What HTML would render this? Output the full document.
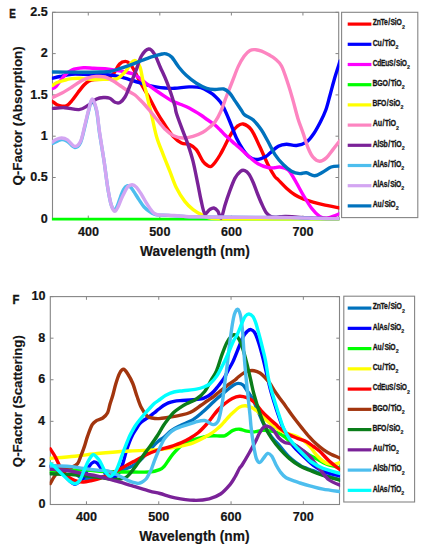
<!DOCTYPE html><html><head><meta charset="utf-8"><style>html,body{margin:0;padding:0;background:#fff;overflow:hidden;}svg{display:block;}text{font-family:"Liberation Sans",sans-serif;font-weight:bold;}</style></head><body>
<svg width="423" height="550" viewBox="0 0 423 550">
<rect width="423" height="550" fill="#fff"/>
<defs><clipPath id="cE"><rect x="51.90" y="10.70" width="287.40" height="209.70"/></clipPath></defs>
<rect x="52.50" y="12.30" width="286.20" height="206.50" fill="none" stroke="#858585" stroke-width="1.1"/>
<path d="M88.28,218.80v-3.20M88.28,12.30v3.20" stroke="#858585" stroke-width="1"/>
<text transform="translate(77.93,235.80) scale(1.0000,1)" font-size="12.60" fill="#141414" stroke="#141414" stroke-width="0.20">400</text>
<path d="M159.82,218.80v-3.20M159.82,12.30v3.20" stroke="#858585" stroke-width="1"/>
<text transform="translate(149.37,235.80) scale(1.0000,1)" font-size="12.60" fill="#141414" stroke="#141414" stroke-width="0.20">500</text>
<path d="M231.38,218.80v-3.20M231.38,12.30v3.20" stroke="#858585" stroke-width="1"/>
<text transform="translate(220.89,235.80) scale(1.0000,1)" font-size="12.60" fill="#141414" stroke="#141414" stroke-width="0.20">600</text>
<path d="M302.93,218.80v-3.20M302.93,12.30v3.20" stroke="#858585" stroke-width="1"/>
<text transform="translate(292.40,235.80) scale(1.0000,1)" font-size="12.60" fill="#141414" stroke="#141414" stroke-width="0.20">700</text>
<path d="M52.50,218.80h3.20M338.70,218.80h-3.20" stroke="#858585" stroke-width="1"/>
<text transform="translate(40.81,222.50) scale(1.0000,1)" font-size="12.60" fill="#141414" stroke="#141414" stroke-width="0.20">0</text>
<path d="M52.50,177.50h3.20M338.70,177.50h-3.20" stroke="#858585" stroke-width="1"/>
<text transform="translate(30.13,181.20) scale(1.0000,1)" font-size="12.60" fill="#141414" stroke="#141414" stroke-width="0.20">0.5</text>
<path d="M52.50,136.20h3.20M338.70,136.20h-3.20" stroke="#858585" stroke-width="1"/>
<text transform="translate(40.65,139.90) scale(1.0000,1)" font-size="12.60" fill="#141414" stroke="#141414" stroke-width="0.20">1</text>
<path d="M52.50,94.90h3.20M338.70,94.90h-3.20" stroke="#858585" stroke-width="1"/>
<text transform="translate(30.13,98.60) scale(1.0000,1)" font-size="12.60" fill="#141414" stroke="#141414" stroke-width="0.20">1.5</text>
<path d="M52.50,53.60h3.20M338.70,53.60h-3.20" stroke="#858585" stroke-width="1"/>
<text transform="translate(40.81,57.30) scale(1.0000,1)" font-size="12.60" fill="#141414" stroke="#141414" stroke-width="0.20">2</text>
<path d="M52.50,12.30h3.20M338.70,12.30h-3.20" stroke="#858585" stroke-width="1"/>
<text transform="translate(30.13,16.00) scale(1.0000,1)" font-size="12.60" fill="#141414" stroke="#141414" stroke-width="0.20">2.5</text>
<g clip-path="url(#cE)" fill="none" stroke-width="3.4" stroke-linejoin="round" stroke-linecap="round">
<path d="M52.50,101.50C53.25,102.05 55.42,104.02 57.00,104.80C58.58,105.58 60.33,106.08 62.00,106.20C63.67,106.32 65.33,106.45 67.00,105.50C68.67,104.55 70.17,102.67 72.00,100.50C73.83,98.33 76.00,95.08 78.00,92.50C80.00,89.92 82.17,86.92 84.00,85.00C85.83,83.08 87.17,81.92 89.00,81.00C90.83,80.08 93.00,79.80 95.00,79.50C97.00,79.20 99.17,79.28 101.00,79.20C102.83,79.12 104.50,79.37 106.00,79.00C107.50,78.63 108.67,78.00 110.00,77.00C111.33,76.00 112.40,75.17 114.00,73.00C115.60,70.83 117.70,65.93 119.60,64.00C121.50,62.07 123.70,61.47 125.40,61.40C127.10,61.33 128.35,62.15 129.80,63.60C131.25,65.05 132.40,67.07 134.10,70.10C135.80,73.13 138.05,78.15 140.00,81.80C141.95,85.45 144.22,89.30 145.80,92.00C147.38,94.70 147.72,94.75 149.50,98.00C151.28,101.25 153.95,107.03 156.50,111.50C159.05,115.97 162.03,120.65 164.80,124.80C167.57,128.95 170.33,133.37 173.10,136.40C175.87,139.43 178.65,141.63 181.40,143.00C184.15,144.37 187.12,143.50 189.60,144.60C192.08,145.70 194.08,146.83 196.30,149.60C198.52,152.37 201.03,158.55 202.90,161.20C204.77,163.85 206.15,164.62 207.50,165.50C208.85,166.38 209.75,167.00 211.00,166.50C212.25,166.00 213.50,164.42 215.00,162.50C216.50,160.58 218.50,157.50 220.00,155.00C221.50,152.50 222.75,149.92 224.00,147.50C225.25,145.08 226.17,143.00 227.50,140.50C228.83,138.00 230.42,134.83 232.00,132.50C233.58,130.17 235.15,127.92 237.00,126.50C238.85,125.08 240.72,123.45 243.10,124.00C245.48,124.55 248.55,126.08 251.30,129.80C254.05,133.52 256.83,140.52 259.60,146.30C262.37,152.08 265.42,159.53 267.90,164.50C270.38,169.47 272.77,173.53 274.50,176.10C276.23,178.67 276.30,177.88 278.30,179.90C280.30,181.92 283.75,185.72 286.50,188.20C289.25,190.68 292.03,193.02 294.80,194.80C297.57,196.58 300.07,197.67 303.10,198.90C306.13,200.13 309.68,201.23 313.00,202.20C316.32,203.17 318.50,203.73 323.00,204.70C327.50,205.67 337.17,207.45 340.00,208.00" stroke="#ff0000"/>
<path d="M52.50,78.20C53.75,77.92 56.78,77.17 60.00,76.50C63.22,75.83 66.80,74.53 71.80,74.20C76.80,73.87 84.47,74.45 90.00,74.50C95.53,74.55 100.07,74.13 105.00,74.50C109.93,74.87 114.75,75.62 119.60,76.70C124.45,77.78 129.73,79.67 134.10,81.00C138.47,82.33 142.15,83.72 145.80,84.70C149.45,85.68 152.80,86.35 156.00,86.90C159.20,87.45 161.90,87.77 165.00,88.00C168.10,88.23 170.58,88.48 174.60,88.30C178.62,88.12 184.73,87.02 189.10,86.90C193.47,86.78 197.40,86.75 200.80,87.60C204.20,88.45 207.08,90.53 209.50,92.00C211.92,93.47 213.55,94.82 215.30,96.40C217.05,97.98 218.68,99.80 220.00,101.50C221.32,103.20 221.57,103.27 223.20,106.60C224.83,109.93 227.60,116.27 229.80,121.50C232.00,126.73 234.18,133.32 236.40,138.00C238.62,142.68 240.88,146.42 243.10,149.60C245.32,152.78 247.22,155.45 249.70,157.10C252.18,158.75 255.25,159.65 258.00,159.50C260.75,159.35 264.20,157.28 266.20,156.20C268.20,155.12 267.98,154.65 270.00,153.00C272.02,151.35 275.55,147.75 278.30,146.30C281.05,144.85 283.47,144.43 286.50,144.30C289.53,144.17 293.18,145.85 296.50,145.50C299.82,145.15 303.57,144.12 306.40,142.20C309.23,140.28 311.15,137.42 313.50,134.00C315.85,130.58 318.45,125.70 320.50,121.70C322.55,117.70 324.25,114.28 325.80,110.00C327.35,105.72 328.40,101.05 329.80,96.00C331.20,90.95 332.75,84.72 334.20,79.70C335.65,74.68 337.53,69.02 338.50,65.90C339.47,62.78 339.75,61.82 340.00,61.00" stroke="#0000ff"/>
<path d="M52.50,88.50C53.08,88.17 53.98,88.67 56.00,86.50C58.02,84.33 61.97,78.25 64.60,75.50C67.23,72.75 68.65,71.28 71.80,70.00C74.95,68.72 79.85,68.08 83.50,67.80C87.15,67.52 90.12,68.15 93.70,68.30C97.28,68.45 100.68,68.27 105.00,68.70C109.32,69.13 114.75,69.93 119.60,70.90C124.45,71.87 129.73,72.45 134.10,74.50C138.47,76.55 142.15,80.53 145.80,83.20C149.45,85.87 152.85,88.30 156.00,90.50C159.15,92.70 162.10,94.70 164.70,96.40C167.30,98.10 168.75,99.30 171.60,100.70C174.45,102.10 178.80,103.55 181.80,104.80C184.80,106.05 186.37,106.47 189.60,108.20C192.83,109.93 198.63,113.57 201.20,115.20C203.77,116.83 203.53,116.95 205.00,118.00C206.47,119.05 208.33,120.33 210.00,121.50C211.67,122.67 213.33,123.62 215.00,125.00C216.67,126.38 218.33,128.13 220.00,129.80C221.67,131.47 223.33,133.38 225.00,135.00C226.67,136.62 228.33,138.00 230.00,139.50C231.67,141.00 233.33,142.53 235.00,144.00C236.67,145.47 238.33,146.80 240.00,148.30C241.67,149.80 243.33,151.47 245.00,153.00C246.67,154.53 247.83,155.72 250.00,157.50C252.17,159.28 255.02,162.03 258.00,163.70C260.98,165.37 265.15,166.82 267.90,167.50C270.65,168.18 272.50,167.88 274.50,167.80C276.50,167.72 277.62,166.63 279.90,167.00C282.18,167.37 285.72,167.85 288.20,170.00C290.68,172.15 292.32,175.77 294.80,179.90C297.28,184.03 300.33,190.12 303.10,194.80C305.87,199.48 308.65,204.42 311.40,208.00C314.15,211.58 317.12,214.58 319.60,216.30C322.08,218.02 324.08,218.30 326.30,218.30C328.52,218.30 330.62,217.10 332.90,216.30C335.18,215.50 338.82,213.97 340.00,213.50" stroke="#ff00ff"/>
<path d="M51.00,219.40C62.50,219.40 95.17,219.40 120.00,219.40C144.83,219.40 163.33,219.40 200.00,219.40C236.67,219.40 316.67,219.40 340.00,219.40" stroke="#00ff00"/>
<path d="M52.50,85.50C53.08,85.08 54.42,83.75 56.00,83.00C57.58,82.25 60.17,81.58 62.00,81.00C63.83,80.42 65.33,79.90 67.00,79.50C68.67,79.10 69.83,78.80 72.00,78.60C74.17,78.40 77.67,78.27 80.00,78.30C82.33,78.33 84.00,78.60 86.00,78.80C88.00,79.00 89.67,79.38 92.00,79.50C94.33,79.62 97.67,79.55 100.00,79.50C102.33,79.45 103.23,79.30 106.00,79.20C108.77,79.10 113.37,80.17 116.60,78.90C119.83,77.63 122.97,74.27 125.40,71.60C127.83,68.93 129.50,64.72 131.20,62.90C132.90,61.08 134.13,59.98 135.60,60.70C137.07,61.42 138.78,63.93 140.00,67.20C141.22,70.47 141.93,76.42 142.90,80.30C143.87,84.18 144.83,86.72 145.80,90.50C146.77,94.28 147.73,98.93 148.70,103.00C149.67,107.07 150.30,109.33 151.60,114.90C152.90,120.47 154.57,129.78 156.50,136.40C158.43,143.02 160.98,148.82 163.20,154.60C165.42,160.38 167.58,165.52 169.80,171.10C172.02,176.68 174.00,183.05 176.50,188.10C179.00,193.15 182.03,197.82 184.80,201.40C187.57,204.98 190.07,207.27 193.10,209.60C196.13,211.93 199.35,213.88 203.00,215.40C206.65,216.92 205.50,218.03 215.00,218.70C224.50,219.37 239.17,219.28 260.00,219.40C280.83,219.52 326.67,219.40 340.00,219.40" stroke="#ffff00"/>
<path d="M52.50,97.50C54.08,96.75 58.75,94.75 62.00,93.00C65.25,91.25 68.67,89.08 72.00,87.00C75.33,84.92 78.67,82.20 82.00,80.50C85.33,78.80 89.17,77.47 92.00,76.80C94.83,76.13 96.83,76.47 99.00,76.50C101.17,76.53 103.17,76.53 105.00,77.00C106.83,77.47 108.33,78.47 110.00,79.30C111.67,80.13 113.33,80.97 115.00,82.00C116.67,83.03 118.33,84.33 120.00,85.50C121.67,86.67 123.33,87.92 125.00,89.00C126.67,90.08 128.33,91.00 130.00,92.00C131.67,93.00 133.33,93.70 135.00,95.00C136.67,96.30 138.33,98.13 140.00,99.80C141.67,101.47 143.33,103.13 145.00,105.00C146.67,106.87 148.33,108.95 150.00,111.00C151.67,113.05 153.33,115.25 155.00,117.30C156.67,119.35 158.37,121.37 160.00,123.30C161.63,125.23 162.62,126.87 164.80,128.90C166.98,130.93 170.07,133.98 173.10,135.50C176.13,137.02 179.68,137.87 183.00,138.00C186.32,138.13 189.68,137.27 193.00,136.30C196.32,135.33 200.15,133.72 202.90,132.20C205.65,130.68 207.48,128.90 209.50,127.20C211.52,125.50 213.08,124.70 215.00,122.00C216.92,119.30 219.07,115.33 221.00,111.00C222.93,106.67 224.68,101.00 226.60,96.00C228.52,91.00 230.55,85.93 232.50,81.00C234.45,76.07 236.37,70.53 238.30,66.40C240.23,62.27 242.15,58.87 244.10,56.20C246.05,53.53 248.05,51.48 250.00,50.40C251.95,49.32 253.87,49.58 255.80,49.70C257.73,49.82 259.42,50.25 261.60,51.10C263.78,51.95 266.72,53.58 268.90,54.80C271.08,56.02 272.60,56.53 274.70,58.40C276.80,60.27 279.27,61.73 281.50,66.00C283.73,70.27 286.18,78.27 288.10,84.00C290.02,89.73 291.37,94.67 293.00,100.40C294.63,106.13 296.22,112.95 297.90,118.40C299.58,123.85 301.40,128.17 303.10,133.10C304.80,138.03 306.45,144.00 308.10,148.00C309.75,152.00 311.08,154.90 313.00,157.10C314.92,159.30 317.38,161.07 319.60,161.20C321.82,161.33 324.08,159.83 326.30,157.90C328.52,155.97 330.62,152.50 332.90,149.60C335.18,146.70 338.82,142.02 340.00,140.50" stroke="#fd84c0"/>
<path d="M52.50,108.40C54.52,108.28 60.18,107.50 64.60,107.70C69.02,107.90 75.12,109.97 79.00,109.60C82.88,109.23 84.97,107.27 87.90,105.50C90.83,103.73 93.93,100.33 96.60,99.00C99.27,97.67 101.72,97.63 103.90,97.50C106.08,97.37 107.85,97.40 109.70,98.20C111.55,99.00 113.28,101.58 115.00,102.30C116.72,103.02 118.33,103.38 120.00,102.50C121.67,101.62 123.50,99.42 125.00,97.00C126.50,94.58 127.67,91.17 129.00,88.00C130.33,84.83 131.80,81.00 133.00,78.00C134.20,75.00 134.80,73.67 136.20,70.00C137.60,66.33 139.32,59.50 141.40,56.00C143.48,52.50 146.52,49.32 148.70,49.00C150.88,48.68 152.57,51.07 154.50,54.10C156.43,57.13 158.17,62.35 160.30,67.20C162.43,72.05 164.92,76.90 167.30,83.20C169.68,89.50 173.08,100.00 174.60,105.00C176.12,110.00 175.00,108.80 176.40,113.20C177.80,117.60 181.07,126.17 183.00,131.40C184.93,136.63 186.33,139.63 188.00,144.60C189.67,149.57 191.35,154.57 193.00,161.20C194.65,167.83 196.57,177.93 197.90,184.40C199.23,190.87 199.87,195.15 201.00,200.00C202.13,204.85 203.27,211.90 204.70,213.50C206.13,215.10 208.08,210.52 209.60,209.60C211.12,208.68 212.42,207.72 213.80,208.00C215.18,208.28 216.67,209.63 217.90,211.30C219.13,212.97 220.03,218.98 221.20,218.00C222.37,217.02 223.57,209.63 224.90,205.40C226.23,201.17 227.53,197.10 229.20,192.60C230.87,188.10 233.02,181.95 234.90,178.40C236.78,174.85 238.85,172.60 240.50,171.30C242.15,170.00 243.38,170.12 244.80,170.60C246.22,171.08 247.58,172.18 249.00,174.20C250.42,176.22 251.87,179.40 253.30,182.70C254.73,186.00 256.18,190.45 257.60,194.00C259.02,197.55 260.38,200.92 261.80,204.00C263.22,207.08 264.68,210.47 266.10,212.50C267.52,214.53 268.82,215.42 270.30,216.20C271.78,216.98 273.38,217.10 275.00,217.20C276.62,217.30 278.33,216.93 280.00,216.80C281.67,216.67 283.00,216.43 285.00,216.40C287.00,216.37 289.50,216.42 292.00,216.60C294.50,216.78 295.33,217.22 300.00,217.50C304.67,217.78 313.33,218.12 320.00,218.30C326.67,218.48 336.67,218.55 340.00,218.60" stroke="#7a2298"/>
<path d="M52.50,143.50C54.02,142.83 59.10,139.83 61.60,139.50C64.10,139.17 65.30,140.17 67.50,141.50C69.70,142.83 72.62,147.33 74.80,147.50C76.98,147.67 78.90,146.08 80.60,142.50C82.30,138.92 83.67,131.25 85.00,126.00C86.33,120.75 87.43,115.33 88.60,111.00C89.77,106.67 90.67,100.00 92.00,100.00C93.33,100.00 95.35,105.50 96.60,111.00C97.85,116.50 98.23,124.50 99.50,133.00C100.77,141.50 102.85,153.00 104.20,162.00C105.55,171.00 106.50,180.08 107.60,187.00C108.70,193.92 109.87,199.83 110.80,203.50C111.73,207.17 112.47,207.95 113.20,209.00C113.93,210.05 114.48,210.38 115.20,209.80C115.92,209.22 116.65,207.55 117.50,205.50C118.35,203.45 119.30,200.17 120.30,197.50C121.30,194.83 122.37,191.43 123.50,189.50C124.63,187.57 125.92,186.30 127.10,185.90C128.28,185.50 129.42,186.07 130.60,187.10C131.78,188.13 132.78,189.97 134.20,192.10C135.62,194.23 137.45,197.42 139.10,199.90C140.75,202.38 142.28,205.00 144.10,207.00C145.92,209.00 148.32,210.72 150.00,211.90C151.68,213.08 152.72,213.57 154.20,214.10C155.68,214.63 156.60,214.88 158.90,215.10C161.20,215.32 164.48,215.23 168.00,215.40C171.52,215.57 175.12,215.85 180.00,216.10C184.88,216.35 183.97,216.68 197.30,216.90C210.63,217.12 244.55,217.28 260.00,217.40C275.45,217.52 280.00,217.42 290.00,217.60C300.00,217.78 311.67,218.30 320.00,218.50C328.33,218.70 336.67,218.75 340.00,218.80" stroke="#4dbeee"/>
<path d="M52.50,142.00C53.08,141.58 54.48,140.17 56.00,139.50C57.52,138.83 59.68,137.93 61.60,138.00C63.52,138.07 65.30,138.50 67.50,139.90C69.70,141.30 72.62,146.17 74.80,146.40C76.98,146.63 78.90,144.93 80.60,141.30C82.30,137.67 83.67,129.82 85.00,124.60C86.33,119.38 87.40,114.27 88.60,110.00C89.80,105.73 90.87,99.00 92.20,99.00C93.53,99.00 95.38,104.53 96.60,110.00C97.82,115.47 98.28,123.47 99.50,131.80C100.72,140.13 102.57,150.97 103.90,160.00C105.23,169.03 106.37,178.83 107.50,186.00C108.63,193.17 109.75,199.03 110.70,203.00C111.65,206.97 112.40,208.47 113.20,209.80C114.00,211.13 114.70,211.47 115.50,211.00C116.30,210.53 117.03,209.00 118.00,207.00C118.97,205.00 120.22,201.42 121.30,199.00C122.38,196.58 123.42,194.53 124.50,192.50C125.58,190.47 126.53,188.08 127.80,186.80C129.07,185.52 130.68,184.75 132.10,184.80C133.52,184.85 134.77,185.53 136.30,187.10C137.83,188.67 139.65,191.60 141.30,194.20C142.95,196.80 144.75,200.33 146.20,202.70C147.65,205.07 148.67,206.62 150.00,208.40C151.33,210.18 152.72,212.30 154.20,213.40C155.68,214.50 156.53,214.70 158.90,215.00C161.27,215.30 164.88,215.03 168.40,215.20C171.92,215.37 175.18,215.72 180.00,216.00C184.82,216.28 183.97,216.67 197.30,216.90C210.63,217.13 244.55,217.28 260.00,217.40C275.45,217.52 280.00,217.42 290.00,217.60C300.00,217.78 311.67,218.30 320.00,218.50C328.33,218.70 336.67,218.75 340.00,218.80" stroke="#d3a5f2"/>
<path d="M52.50,72.00C57.08,72.03 72.08,72.20 80.00,72.20C87.92,72.20 95.05,72.12 100.00,72.00C104.95,71.88 106.43,72.05 109.70,71.50C112.97,70.95 115.53,70.02 119.60,68.70C123.67,67.38 129.25,65.42 134.10,63.60C138.95,61.78 145.05,59.13 148.70,57.80C152.35,56.47 153.78,56.23 156.00,55.60C158.22,54.97 160.37,54.30 162.00,54.00C163.63,53.70 164.20,53.30 165.80,53.80C167.40,54.30 169.42,54.77 171.60,57.00C173.78,59.23 176.47,64.17 178.90,67.20C181.33,70.23 183.28,72.53 186.20,75.20C189.12,77.87 193.00,81.02 196.40,83.20C199.80,85.38 203.50,87.25 206.60,88.30C209.70,89.35 212.15,89.38 215.00,89.50C217.85,89.62 221.27,88.42 223.70,89.00C226.13,89.58 227.65,90.93 229.60,93.00C231.55,95.07 233.47,98.57 235.40,101.40C237.33,104.23 239.65,107.75 241.20,110.00C242.75,112.25 242.73,113.27 244.70,114.90C246.67,116.53 250.23,117.32 253.00,119.80C255.77,122.28 258.82,126.22 261.30,129.80C263.78,133.38 265.62,137.17 267.90,141.30C270.18,145.43 272.45,150.73 275.00,154.60C277.55,158.47 280.45,161.73 283.20,164.50C285.95,167.27 288.73,169.68 291.50,171.20C294.27,172.72 297.32,173.33 299.80,173.60C302.28,173.87 303.92,172.43 306.40,172.80C308.88,173.17 311.93,175.93 314.70,175.80C317.47,175.67 320.25,173.47 323.00,172.00C325.75,170.53 328.37,168.00 331.20,167.00C334.03,166.00 338.53,166.17 340.00,166.00" stroke="#0072bd"/>
</g>
<rect x="341.60" y="12.30" width="76.20" height="205.30" fill="#fff" stroke="#858585" stroke-width="1.1"/>
<path d="M347.7,24.10H371.4" stroke="#ff0000" stroke-width="3.2"/>
<text transform="translate(372.79,25.40) scale(0.8116,1)" font-size="8.43" fill="#141414" letter-spacing="-0.35" stroke="#141414" stroke-width="0.28" dx="0 0 0 0 0.90 0.90 0 0">ZnTe/SiO</text>
<text transform="translate(401.91,28.50) scale(0.9500,1)" font-size="5.60" fill="#141414" stroke="#141414" stroke-width="0.10">2</text>
<path d="M347.7,44.30H371.4" stroke="#0000ff" stroke-width="3.2"/>
<text transform="translate(372.72,45.60) scale(0.8272,1)" font-size="8.43" fill="#141414" letter-spacing="-0.35" stroke="#141414" stroke-width="0.28" dx="0 0 0.90 0.90 0 0">Cu/TiO</text>
<text transform="translate(395.61,48.70) scale(0.9500,1)" font-size="5.60" fill="#141414" stroke="#141414" stroke-width="0.10">2</text>
<path d="M347.7,64.50H371.4" stroke="#ff00ff" stroke-width="3.2"/>
<text transform="translate(372.74,65.80) scale(0.7851,1)" font-size="8.43" fill="#141414" letter-spacing="-0.35" stroke="#141414" stroke-width="0.28" dx="0 0 0 0 0 0.90 0.90 0 0">CdEuS/SiO</text>
<text transform="translate(407.01,68.90) scale(0.9500,1)" font-size="5.60" fill="#141414" stroke="#141414" stroke-width="0.10">2</text>
<path d="M347.7,84.70H371.4" stroke="#00ff00" stroke-width="3.2"/>
<text transform="translate(372.53,86.00) scale(0.8299,1)" font-size="8.43" fill="#141414" letter-spacing="-0.35" stroke="#141414" stroke-width="0.28" dx="0 0 0 0.90 0.90 0 0">BGO/TiO</text>
<text transform="translate(401.81,89.10) scale(0.9500,1)" font-size="5.60" fill="#141414" stroke="#141414" stroke-width="0.10">2</text>
<path d="M347.7,104.90H371.4" stroke="#ffff00" stroke-width="3.2"/>
<text transform="translate(372.54,106.20) scale(0.8079,1)" font-size="8.43" fill="#141414" letter-spacing="-0.35" stroke="#141414" stroke-width="0.28" dx="0 0 0 0.90 0.90 0 0">BFO/SiO</text>
<text transform="translate(400.41,109.30) scale(0.9500,1)" font-size="5.60" fill="#141414" stroke="#141414" stroke-width="0.10">2</text>
<path d="M347.7,125.10H371.4" stroke="#fd84c0" stroke-width="3.2"/>
<text transform="translate(372.82,126.40) scale(0.8419,1)" font-size="8.43" fill="#141414" letter-spacing="-0.35" stroke="#141414" stroke-width="0.28" dx="0 0 0.90 0.90 0 0">Au/TiO</text>
<text transform="translate(396.11,129.50) scale(0.9500,1)" font-size="5.60" fill="#141414" stroke="#141414" stroke-width="0.10">2</text>
<path d="M347.7,145.30H371.4" stroke="#7a2298" stroke-width="3.2"/>
<text transform="translate(372.83,146.60) scale(0.8297,1)" font-size="8.43" fill="#141414" letter-spacing="-0.35" stroke="#141414" stroke-width="0.28" dx="0 0 0 0 0.90 0.90 0 0">AlSb/TiO</text>
<text transform="translate(401.81,149.70) scale(0.9500,1)" font-size="5.60" fill="#141414" stroke="#141414" stroke-width="0.10">2</text>
<path d="M347.7,165.50H371.4" stroke="#4dbeee" stroke-width="3.2"/>
<text transform="translate(372.83,166.80) scale(0.8151,1)" font-size="8.43" fill="#141414" letter-spacing="-0.35" stroke="#141414" stroke-width="0.28" dx="0 0 0 0 0.90 0.90 0 0">AlAs/TiO</text>
<text transform="translate(401.31,169.90) scale(0.9500,1)" font-size="5.60" fill="#141414" stroke="#141414" stroke-width="0.10">2</text>
<path d="M347.7,185.70H371.4" stroke="#d3a5f2" stroke-width="3.2"/>
<text transform="translate(372.83,187.00) scale(0.8008,1)" font-size="8.43" fill="#141414" letter-spacing="-0.35" stroke="#141414" stroke-width="0.28" dx="0 0 0 0 0.90 0.90 0 0">AlAs/SiO</text>
<text transform="translate(401.31,190.10) scale(0.9500,1)" font-size="5.60" fill="#141414" stroke="#141414" stroke-width="0.10">2</text>
<path d="M347.7,205.90H371.4" stroke="#0072bd" stroke-width="3.2"/>
<text transform="translate(372.83,207.20) scale(0.8087,1)" font-size="8.43" fill="#141414" letter-spacing="-0.35" stroke="#141414" stroke-width="0.28" dx="0 0 0.90 0.90 0 0">Au/SiO</text>
<text transform="translate(395.71,210.30) scale(0.9500,1)" font-size="5.60" fill="#141414" stroke="#141414" stroke-width="0.10">2</text>
<defs><clipPath id="cF"><rect x="49.70" y="295.00" width="290.40" height="211.10"/></clipPath></defs>
<rect x="50.30" y="296.60" width="289.20" height="207.90" fill="none" stroke="#858585" stroke-width="1.1"/>
<path d="M86.45,504.50v-3.20M86.45,296.60v3.20" stroke="#858585" stroke-width="1"/>
<text transform="translate(76.10,520.80) scale(1.0000,1)" font-size="12.60" fill="#141414" stroke="#141414" stroke-width="0.20">400</text>
<path d="M158.75,504.50v-3.20M158.75,296.60v3.20" stroke="#858585" stroke-width="1"/>
<text transform="translate(148.29,520.80) scale(1.0000,1)" font-size="12.60" fill="#141414" stroke="#141414" stroke-width="0.20">500</text>
<path d="M231.05,504.50v-3.20M231.05,296.60v3.20" stroke="#858585" stroke-width="1"/>
<text transform="translate(220.56,520.80) scale(1.0000,1)" font-size="12.60" fill="#141414" stroke="#141414" stroke-width="0.20">600</text>
<path d="M303.35,504.50v-3.20M303.35,296.60v3.20" stroke="#858585" stroke-width="1"/>
<text transform="translate(292.83,520.80) scale(1.0000,1)" font-size="12.60" fill="#141414" stroke="#141414" stroke-width="0.20">700</text>
<path d="M50.30,504.50h3.20M339.50,504.50h-3.20" stroke="#858585" stroke-width="1"/>
<text transform="translate(38.41,508.20) scale(1.0000,1)" font-size="12.60" fill="#141414" stroke="#141414" stroke-width="0.20">0</text>
<path d="M50.30,462.92h3.20M339.50,462.92h-3.20" stroke="#858585" stroke-width="1"/>
<text transform="translate(38.41,466.62) scale(1.0000,1)" font-size="12.60" fill="#141414" stroke="#141414" stroke-width="0.20">2</text>
<path d="M50.30,421.34h3.20M339.50,421.34h-3.20" stroke="#858585" stroke-width="1"/>
<text transform="translate(37.97,425.04) scale(1.0000,1)" font-size="12.60" fill="#141414" stroke="#141414" stroke-width="0.20">4</text>
<path d="M50.30,379.76h3.20M339.50,379.76h-3.20" stroke="#858585" stroke-width="1"/>
<text transform="translate(38.35,383.46) scale(1.0000,1)" font-size="12.60" fill="#141414" stroke="#141414" stroke-width="0.20">6</text>
<path d="M50.30,338.18h3.20M339.50,338.18h-3.20" stroke="#858585" stroke-width="1"/>
<text transform="translate(38.28,341.88) scale(1.0000,1)" font-size="12.60" fill="#141414" stroke="#141414" stroke-width="0.20">8</text>
<path d="M50.30,296.60h3.20M339.50,296.60h-3.20" stroke="#858585" stroke-width="1"/>
<text transform="translate(31.42,300.30) scale(1.0000,1)" font-size="12.60" fill="#141414" stroke="#141414" stroke-width="0.20">10</text>
<g clip-path="url(#cF)" fill="none" stroke-width="3.4" stroke-linejoin="round" stroke-linecap="round">
<path d="M50.30,466.00C51.92,466.08 56.72,466.08 60.00,466.50C63.28,466.92 67.33,467.25 70.00,468.50C72.67,469.75 74.15,472.45 76.00,474.00C77.85,475.55 78.87,477.07 81.10,477.80C83.33,478.53 86.75,478.37 89.40,478.40C92.05,478.43 94.23,478.48 97.00,478.00C99.77,477.52 102.75,476.63 106.00,475.50C109.25,474.37 113.33,472.28 116.50,471.20C119.67,470.12 122.35,469.87 125.00,469.00C127.65,468.13 129.90,467.42 132.40,466.00C134.90,464.58 137.73,462.50 140.00,460.50C142.27,458.50 143.98,456.22 146.00,454.00C148.02,451.78 150.10,449.28 152.10,447.20C154.10,445.12 155.98,443.20 158.00,441.50C160.02,439.80 161.98,438.82 164.20,437.00C166.42,435.18 168.67,432.48 171.30,430.60C173.93,428.72 176.37,427.53 180.00,425.70C183.63,423.87 189.27,421.92 193.10,419.60C196.93,417.28 200.32,414.07 203.00,411.80C205.68,409.53 207.03,408.05 209.20,406.00C211.37,403.95 213.63,401.62 216.00,399.50C218.37,397.38 221.23,395.13 223.40,393.30C225.57,391.47 227.28,389.88 229.00,388.50C230.72,387.12 232.15,385.85 233.70,385.00C235.25,384.15 236.75,383.40 238.30,383.40C239.85,383.40 241.58,383.83 243.00,385.00C244.42,386.17 245.18,388.05 246.80,390.40C248.42,392.75 250.75,395.47 252.70,399.10C254.65,402.73 256.57,407.83 258.50,412.20C260.43,416.57 262.12,421.17 264.30,425.30C266.48,429.43 268.93,433.47 271.60,437.00C274.27,440.53 278.07,443.93 280.30,446.50C282.53,449.07 283.52,450.65 285.00,452.40C286.48,454.15 287.53,455.43 289.20,457.00C290.87,458.57 293.20,460.42 295.00,461.80C296.80,463.18 298.50,464.37 300.00,465.30C301.50,466.23 301.83,466.50 304.00,467.40C306.17,468.30 309.83,469.47 313.00,470.70C316.17,471.93 318.33,473.25 323.00,474.80C327.67,476.35 338.00,479.13 341.00,480.00" stroke="#0072bd"/>
<path d="M50.30,466.70C51.25,466.92 54.05,467.03 56.00,468.00C57.95,468.97 59.78,470.42 62.00,472.50C64.22,474.58 67.10,478.53 69.30,480.50C71.50,482.47 73.42,484.22 75.20,484.30C76.98,484.38 78.62,482.08 80.00,481.00C81.38,479.92 81.93,480.30 83.50,477.80C85.07,475.30 87.65,468.65 89.40,466.00C91.15,463.35 92.63,462.30 94.00,461.90C95.37,461.50 96.28,462.33 97.60,463.60C98.92,464.87 100.22,467.60 101.90,469.50C103.58,471.40 105.82,473.62 107.70,475.00C109.58,476.38 111.40,478.05 113.20,477.80C115.00,477.55 116.95,475.70 118.50,473.50C120.05,471.30 121.22,468.27 122.50,464.60C123.78,460.93 125.03,455.27 126.20,451.50C127.37,447.73 128.40,444.83 129.50,442.00C130.60,439.17 131.63,436.75 132.80,434.50C133.97,432.25 135.30,430.37 136.50,428.50C137.70,426.63 138.58,424.80 140.00,423.30C141.42,421.80 143.42,420.63 145.00,419.50C146.58,418.37 148.00,417.58 149.50,416.50C151.00,415.42 152.43,414.25 154.00,413.00C155.57,411.75 157.32,410.25 158.90,409.00C160.48,407.75 161.92,406.53 163.50,405.50C165.08,404.47 166.65,403.50 168.40,402.80C170.15,402.10 172.08,401.67 174.00,401.30C175.92,400.93 176.72,400.85 179.90,400.60C183.08,400.35 189.52,400.10 193.10,399.80C196.68,399.50 199.50,399.13 201.40,398.80C203.30,398.47 203.23,398.35 204.50,397.80C205.77,397.25 207.43,396.60 209.00,395.50C210.57,394.40 212.48,392.62 213.90,391.20C215.32,389.78 216.23,388.58 217.50,387.00C218.77,385.42 220.25,383.45 221.50,381.70C222.75,379.95 223.90,378.38 225.00,376.50C226.10,374.62 226.80,372.83 228.10,370.40C229.40,367.97 231.10,365.55 232.80,361.90C234.50,358.25 236.55,352.75 238.30,348.50C240.05,344.25 241.85,339.22 243.30,336.40C244.75,333.58 245.72,332.73 247.00,331.60C248.28,330.47 249.67,329.33 251.00,329.60C252.33,329.87 253.67,330.85 255.00,333.20C256.33,335.55 257.67,339.52 259.00,343.70C260.33,347.88 261.63,352.88 263.00,358.30C264.37,363.72 265.97,371.00 267.20,376.20C268.43,381.40 269.20,385.03 270.40,389.50C271.60,393.97 273.10,398.78 274.40,403.00C275.70,407.22 276.97,411.17 278.20,414.80C279.43,418.43 280.63,421.88 281.80,424.80C282.97,427.72 283.83,429.52 285.20,432.30C286.57,435.08 288.43,438.97 290.00,441.50C291.57,444.03 292.28,444.97 294.60,447.50C296.92,450.03 300.77,453.73 303.90,456.70C307.03,459.67 310.25,462.93 313.40,465.30C316.55,467.67 319.87,469.48 322.80,470.90C325.73,472.32 327.97,472.95 331.00,473.80C334.03,474.65 339.33,475.63 341.00,476.00" stroke="#0000ff"/>
<path d="M50.30,471.70C53.85,471.47 66.07,470.62 71.60,470.30C77.13,469.98 78.77,469.65 83.50,469.80C88.23,469.95 94.50,470.83 100.00,471.20C105.50,471.57 110.98,471.87 116.50,472.00C122.02,472.13 127.58,472.00 133.10,472.00C138.62,472.00 145.18,472.40 149.60,472.00C154.02,471.60 157.20,470.52 159.60,469.60C162.00,468.68 162.60,467.93 164.00,466.50C165.40,465.07 166.45,463.15 168.00,461.00C169.55,458.85 171.03,456.22 173.30,453.60C175.57,450.98 178.82,447.43 181.60,445.30C184.38,443.17 187.25,441.95 190.00,440.80C192.75,439.65 195.10,439.18 198.10,438.40C201.10,437.62 205.35,436.55 208.00,436.10C210.65,435.65 212.07,435.72 214.00,435.70C215.93,435.68 217.83,435.98 219.60,436.00C221.37,436.02 223.03,436.27 224.60,435.80C226.17,435.33 227.60,434.12 229.00,433.20C230.40,432.28 231.23,430.97 233.00,430.30C234.77,429.63 237.30,429.05 239.60,429.20C241.90,429.35 244.38,430.75 246.80,431.20C249.22,431.65 251.42,432.03 254.10,431.90C256.78,431.77 259.98,430.52 262.90,430.40C265.82,430.28 268.93,430.72 271.60,431.20C274.27,431.68 276.72,432.33 278.90,433.30C281.08,434.27 283.07,435.80 284.70,437.00C286.33,438.20 286.57,438.83 288.70,440.50C290.83,442.17 295.12,445.28 297.50,447.00C299.88,448.72 301.07,449.47 303.00,450.80C304.93,452.13 306.62,453.55 309.10,455.00C311.58,456.45 315.07,458.00 317.90,459.50C320.73,461.00 322.25,462.55 326.10,464.00C329.95,465.45 338.52,467.50 341.00,468.20" stroke="#00ff00"/>
<path d="M50.30,458.30C54.42,457.95 66.72,457.05 75.00,456.20C83.28,455.35 90.83,454.07 100.00,453.20C109.17,452.33 120.00,451.62 130.00,451.00C140.00,450.38 152.25,450.18 160.00,449.50C167.75,448.82 170.98,448.02 176.50,446.90C182.02,445.78 187.58,444.87 193.10,442.80C198.62,440.73 205.62,436.80 209.60,434.50C213.58,432.20 215.10,430.50 217.00,429.00C218.90,427.50 219.67,426.83 221.00,425.50C222.33,424.17 223.58,422.58 225.00,421.00C226.42,419.42 228.28,417.30 229.50,416.00C230.72,414.70 230.62,414.68 232.30,413.20C233.98,411.72 237.42,408.35 239.60,407.10C241.78,405.85 243.22,405.57 245.40,405.70C247.58,405.83 250.27,406.57 252.70,407.90C255.13,409.23 257.58,411.52 260.00,413.70C262.42,415.88 264.78,418.82 267.20,421.00C269.62,423.18 272.37,425.22 274.50,426.80C276.63,428.38 277.63,429.32 280.00,430.50C282.37,431.68 285.78,432.85 288.70,433.90C291.62,434.95 294.85,435.53 297.50,436.80C300.15,438.07 302.40,439.72 304.60,441.50C306.80,443.28 308.80,445.33 310.70,447.50C312.60,449.67 313.98,452.25 316.00,454.50C318.02,456.75 320.47,459.38 322.80,461.00C325.13,462.62 327.97,463.67 330.00,464.20C332.03,464.73 333.17,464.52 335.00,464.20C336.83,463.88 340.00,462.62 341.00,462.30" stroke="#ffff00"/>
<path d="M50.30,448.90C51.10,450.17 53.52,453.65 55.10,456.50C56.68,459.35 58.03,463.03 59.80,466.00C61.57,468.97 63.73,472.13 65.70,474.30C67.67,476.47 69.62,477.82 71.60,479.00C73.58,480.18 75.62,480.90 77.60,481.40C79.58,481.90 81.33,482.10 83.50,482.00C85.67,481.90 88.25,481.27 90.60,480.80C92.95,480.33 95.48,479.83 97.60,479.20C99.72,478.57 101.25,477.78 103.30,477.00C105.35,476.22 107.13,475.83 109.90,474.50C112.67,473.17 116.88,470.67 119.90,469.00C122.92,467.33 125.22,466.00 128.00,464.50C130.78,463.00 133.55,461.62 136.60,460.00C139.65,458.38 142.75,456.47 146.30,454.80C149.85,453.13 154.78,451.10 157.90,450.00C161.02,448.90 162.48,448.90 165.00,448.20C167.52,447.50 170.23,446.73 173.00,445.80C175.77,444.87 178.77,443.87 181.60,442.60C184.43,441.33 187.25,439.83 190.00,438.20C192.75,436.57 195.38,435.08 198.10,432.80C200.82,430.52 203.98,427.05 206.30,424.50C208.62,421.95 210.07,419.92 212.00,417.50C213.93,415.08 215.73,412.33 217.90,410.00C220.07,407.67 222.60,405.43 225.00,403.50C227.40,401.57 229.87,399.62 232.30,398.40C234.73,397.18 237.18,396.32 239.60,396.20C242.02,396.08 244.38,396.73 246.80,397.70C249.22,398.67 251.67,399.82 254.10,402.00C256.53,404.18 258.97,408.12 261.40,410.80C263.83,413.48 266.27,415.80 268.70,418.10C271.13,420.40 274.12,422.87 276.00,424.60C277.88,426.33 277.88,426.85 280.00,428.50C282.12,430.15 285.78,432.87 288.70,434.50C291.62,436.13 294.58,437.13 297.50,438.30C300.42,439.47 303.53,440.13 306.20,441.50C308.87,442.87 311.20,444.83 313.50,446.50C315.80,448.17 317.38,449.08 320.00,451.50C322.62,453.92 325.70,457.83 329.20,461.00C332.70,464.17 339.03,468.92 341.00,470.50" stroke="#ff0000"/>
<path d="M50.30,483.50C51.10,482.17 53.12,477.82 55.10,475.50C57.08,473.18 59.45,470.98 62.20,469.60C64.95,468.22 69.03,468.20 71.60,467.20C74.17,466.20 76.02,465.57 77.60,463.60C79.18,461.63 79.93,458.35 81.10,455.40C82.27,452.45 83.53,449.07 84.60,445.90C85.67,442.73 86.23,439.95 87.50,436.40C88.77,432.85 90.63,427.27 92.20,424.60C93.77,421.93 95.13,421.50 96.90,420.40C98.67,419.30 101.02,419.28 102.80,418.00C104.58,416.72 106.42,414.95 107.60,412.70C108.78,410.45 109.02,407.45 109.90,404.50C110.78,401.55 111.90,398.50 112.90,395.00C113.90,391.50 114.80,387.08 115.90,383.50C117.00,379.92 118.23,375.87 119.50,373.50C120.77,371.13 122.12,369.22 123.50,369.30C124.88,369.38 126.25,371.63 127.80,374.00C129.35,376.37 131.27,379.78 132.80,383.50C134.33,387.22 135.58,392.28 137.00,396.30C138.42,400.32 139.63,404.32 141.30,407.60C142.97,410.88 145.22,414.27 147.00,416.00C148.78,417.73 150.02,417.57 152.00,418.00C153.98,418.43 156.28,418.68 158.90,418.60C161.52,418.52 164.25,418.03 167.70,417.50C171.15,416.97 175.88,416.23 179.60,415.40C183.32,414.57 186.48,414.15 190.00,412.50C193.52,410.85 197.87,407.42 200.70,405.50C203.53,403.58 204.80,402.53 207.00,401.00C209.20,399.47 211.98,397.72 213.90,396.30C215.82,394.88 216.92,393.78 218.50,392.50C220.08,391.22 221.65,389.98 223.40,388.60C225.15,387.22 227.07,385.63 229.00,384.20C230.93,382.77 233.45,381.20 235.00,380.00C236.55,378.80 236.82,378.18 238.30,377.00C239.78,375.82 242.28,373.90 243.90,372.90C245.52,371.90 246.30,371.37 248.00,371.00C249.70,370.63 252.10,370.37 254.10,370.70C256.10,371.03 258.18,371.87 260.00,373.00C261.82,374.13 263.33,375.75 265.00,377.50C266.67,379.25 268.52,381.43 270.00,383.50C271.48,385.57 272.48,387.73 273.90,389.90C275.32,392.07 276.92,394.30 278.50,396.50C280.08,398.70 281.82,400.92 283.40,403.10C284.98,405.28 286.43,407.40 288.00,409.60C289.57,411.80 291.30,414.27 292.80,416.30C294.30,418.33 295.50,419.88 297.00,421.80C298.50,423.72 299.78,425.33 301.80,427.80C303.82,430.27 306.67,433.88 309.10,436.60C311.53,439.32 313.97,441.88 316.40,444.10C318.83,446.32 321.27,448.20 323.70,449.90C326.13,451.60 328.12,452.87 331.00,454.30C333.88,455.73 339.33,457.80 341.00,458.50" stroke="#a2350e"/>
<path d="M50.30,473.80C52.25,473.88 58.45,474.18 62.00,474.30C65.55,474.42 68.02,474.30 71.60,474.50C75.18,474.70 78.77,475.00 83.50,475.50C88.23,476.00 95.05,476.83 100.00,477.50C104.95,478.17 109.07,479.42 113.20,479.50C117.33,479.58 122.00,479.00 124.80,478.00C127.60,477.00 128.03,475.67 130.00,473.50C131.97,471.33 134.13,468.37 136.60,465.00C139.07,461.63 142.47,456.55 144.80,453.30C147.13,450.05 148.48,448.47 150.60,445.50C152.72,442.53 155.38,438.80 157.50,435.50C159.62,432.20 161.48,428.50 163.30,425.70C165.12,422.90 166.68,420.90 168.40,418.70C170.12,416.50 171.72,414.32 173.60,412.50C175.48,410.68 177.55,409.25 179.70,407.80C181.85,406.35 183.72,405.27 186.50,403.80C189.28,402.33 193.37,401.05 196.40,399.00C199.43,396.95 202.22,394.68 204.70,391.50C207.18,388.32 209.32,383.37 211.30,379.90C213.28,376.43 214.87,374.78 216.60,370.70C218.33,366.62 220.00,360.07 221.70,355.40C223.40,350.73 225.10,345.98 226.80,342.70C228.50,339.42 230.42,336.97 231.90,335.70C233.38,334.43 234.43,334.35 235.70,335.10C236.97,335.85 238.23,337.65 239.50,340.20C240.77,342.75 242.05,346.42 243.30,350.40C244.55,354.38 245.77,359.17 247.00,364.10C248.23,369.03 249.52,374.88 250.70,380.00C251.88,385.12 252.55,389.18 254.10,394.80C255.65,400.42 258.05,408.13 260.00,413.70C261.95,419.27 263.87,424.08 265.80,428.20C267.73,432.32 269.23,434.90 271.60,438.40C273.97,441.90 277.07,445.87 280.00,449.20C282.93,452.53 285.87,455.58 289.20,458.40C292.53,461.22 296.42,464.05 300.00,466.10C303.58,468.15 306.87,469.17 310.70,470.70C314.53,472.23 317.95,473.67 323.00,475.30C328.05,476.93 338.00,479.63 341.00,480.50" stroke="#0a7d1a"/>
<path d="M50.30,469.20C52.25,469.33 58.45,469.65 62.00,470.00C65.55,470.35 68.02,470.68 71.60,471.30C75.18,471.92 79.17,472.90 83.50,473.70C87.83,474.50 92.10,474.85 97.60,476.10C103.10,477.35 110.58,479.53 116.50,481.20C122.42,482.87 127.58,484.45 133.10,486.10C138.62,487.75 145.12,489.87 149.60,491.10C154.08,492.33 155.75,492.38 160.00,493.50C164.25,494.62 169.43,496.67 175.10,497.80C180.77,498.93 188.32,500.13 194.00,500.30C199.68,500.47 204.78,499.85 209.20,498.80C213.62,497.75 217.03,496.37 220.50,494.00C223.97,491.63 227.58,487.43 230.00,484.60C232.42,481.77 233.43,479.68 235.00,477.00C236.57,474.32 238.22,470.50 239.40,468.50C240.58,466.50 240.47,467.58 242.10,465.00C243.73,462.42 246.83,457.18 249.20,453.00C251.57,448.82 254.67,443.07 256.30,439.90C257.93,436.73 257.90,435.98 259.00,434.00C260.10,432.02 261.53,429.32 262.90,428.00C264.27,426.68 265.50,425.82 267.20,426.10C268.90,426.38 271.15,427.72 273.10,429.70C275.05,431.68 276.97,435.87 278.90,438.00C280.83,440.13 282.98,441.62 284.70,442.50C286.42,443.38 287.55,442.92 289.20,443.30C290.85,443.68 292.80,443.97 294.60,444.80C296.40,445.63 298.27,447.10 300.00,448.30C301.73,449.50 303.22,450.47 305.00,452.00C306.78,453.53 309.03,455.67 310.70,457.50C312.37,459.33 313.45,461.00 315.00,463.00C316.55,465.00 317.63,466.67 320.00,469.50C322.37,472.33 325.70,477.32 329.20,480.00C332.70,482.68 339.03,484.67 341.00,485.60" stroke="#7a2298"/>
<path d="M50.30,466.00C51.88,466.00 56.25,465.90 59.80,466.00C63.35,466.10 67.65,466.20 71.60,466.60C75.55,467.00 79.17,467.82 83.50,468.40C87.83,468.98 93.57,469.67 97.60,470.10C101.63,470.53 104.55,470.27 107.70,471.00C110.85,471.73 113.07,472.90 116.50,474.50C119.93,476.10 124.95,479.15 128.30,480.60C131.65,482.05 134.65,482.80 136.60,483.20C138.55,483.60 138.90,483.30 140.00,483.00C141.10,482.70 142.12,482.15 143.20,481.40C144.28,480.65 145.53,479.73 146.50,478.50C147.47,477.27 148.20,475.50 149.00,474.00C149.80,472.50 150.62,471.08 151.30,469.50C151.98,467.92 152.48,466.20 153.10,464.50C153.72,462.80 154.22,461.30 155.00,459.30C155.78,457.30 156.87,454.68 157.80,452.50C158.73,450.32 159.53,448.43 160.60,446.20C161.67,443.97 162.65,441.33 164.20,439.10C165.75,436.87 168.13,434.45 169.90,432.80C171.67,431.15 173.12,430.15 174.80,429.20C176.48,428.25 176.67,428.25 180.00,427.10C183.33,425.95 190.68,423.40 194.80,422.30C198.92,421.20 201.67,420.12 204.70,420.50C207.73,420.88 210.78,424.47 213.00,424.60C215.22,424.73 216.67,423.73 218.00,421.30C219.33,418.87 220.17,413.88 221.00,410.00C221.83,406.12 222.37,402.50 223.00,398.00C223.63,393.50 224.17,387.97 224.80,383.00C225.43,378.03 226.02,374.53 226.80,368.20C227.58,361.87 228.72,351.37 229.50,345.00C230.28,338.63 230.83,334.50 231.50,330.00C232.17,325.50 232.83,321.08 233.50,318.00C234.17,314.92 234.80,312.95 235.50,311.50C236.20,310.05 237.03,309.22 237.70,309.30C238.37,309.38 238.95,310.55 239.50,312.00C240.05,313.45 240.50,314.92 241.00,318.00C241.50,321.08 242.03,325.17 242.50,330.50C242.97,335.83 243.40,344.25 243.80,350.00C244.20,355.75 244.45,359.67 244.90,365.00C245.35,370.33 245.93,376.32 246.50,382.00C247.07,387.68 247.72,393.60 248.30,399.10C248.88,404.60 249.52,410.15 250.00,415.00C250.48,419.85 250.63,423.33 251.20,428.20C251.77,433.07 252.55,439.17 253.40,444.20C254.25,449.23 255.23,455.33 256.30,458.40C257.37,461.47 258.62,462.60 259.80,462.60C260.98,462.60 262.10,459.93 263.40,458.40C264.70,456.87 266.18,453.77 267.60,453.40C269.02,453.03 270.48,454.27 271.90,456.20C273.32,458.13 274.68,462.37 276.10,465.00C277.52,467.63 278.73,469.87 280.40,472.00C282.07,474.13 283.73,476.27 286.10,477.80C288.47,479.33 292.28,480.33 294.60,481.20C296.92,482.07 297.32,482.18 300.00,483.00C302.68,483.82 306.87,485.07 310.70,486.10C314.53,487.13 317.95,488.27 323.00,489.20C328.05,490.13 338.00,491.28 341.00,491.70" stroke="#4dbeee"/>
<path d="M50.30,463.60C51.10,464.20 53.12,465.42 55.10,467.20C57.08,468.98 59.83,472.03 62.20,474.30C64.57,476.57 67.13,479.23 69.30,480.80C71.47,482.37 73.43,483.80 75.20,483.70C76.97,483.60 78.52,482.17 79.90,480.20C81.28,478.23 82.12,475.05 83.50,471.90C84.88,468.75 86.63,464.15 88.20,461.30C89.77,458.45 91.52,455.50 92.90,454.80C94.28,454.10 95.32,456.02 96.50,457.10C97.68,458.18 98.58,458.95 100.00,461.30C101.42,463.65 103.35,468.72 105.00,471.20C106.65,473.68 108.48,475.73 109.90,476.20C111.32,476.67 112.37,475.12 113.50,474.00C114.63,472.88 115.62,471.67 116.70,469.50C117.78,467.33 118.88,464.00 120.00,461.00C121.12,458.00 122.35,454.30 123.40,451.50C124.45,448.70 125.37,446.55 126.30,444.20C127.23,441.85 128.05,439.52 129.00,437.40C129.95,435.28 131.00,433.37 132.00,431.50C133.00,429.63 133.67,428.20 135.00,426.20C136.33,424.20 138.42,421.53 140.00,419.50C141.58,417.47 142.92,415.83 144.50,414.00C146.08,412.17 147.83,410.28 149.50,408.50C151.17,406.72 152.77,404.80 154.50,403.30C156.23,401.80 158.08,400.80 159.90,399.50C161.72,398.20 163.07,396.75 165.40,395.50C167.73,394.25 170.93,392.80 173.90,392.00C176.87,391.20 179.45,391.17 183.20,390.70C186.95,390.23 192.85,389.87 196.40,389.20C199.95,388.53 202.22,387.63 204.50,386.70C206.78,385.77 208.07,385.37 210.10,383.60C212.13,381.83 214.65,379.08 216.70,376.10C218.75,373.12 220.93,368.47 222.40,365.70C223.87,362.93 224.33,362.03 225.50,359.50C226.67,356.97 228.07,353.58 229.40,350.50C230.73,347.42 232.15,343.75 233.50,341.00C234.85,338.25 235.98,337.25 237.50,334.00C239.02,330.75 241.27,324.50 242.60,321.50C243.93,318.50 244.43,317.25 245.50,316.00C246.57,314.75 247.77,313.92 249.00,314.00C250.23,314.08 251.82,315.13 252.90,316.50C253.98,317.87 254.78,320.33 255.50,322.20C256.22,324.07 256.42,324.95 257.20,327.70C257.98,330.45 259.23,334.98 260.20,338.70C261.17,342.42 262.10,346.25 263.00,350.00C263.90,353.75 264.73,356.67 265.60,361.20C266.47,365.73 267.32,372.65 268.20,377.20C269.08,381.75 269.60,383.78 270.90,388.50C272.20,393.22 274.65,401.08 276.00,405.50C277.35,409.92 277.73,411.23 279.00,415.00C280.27,418.77 281.73,423.98 283.60,428.10C285.47,432.22 287.88,436.32 290.20,439.70C292.52,443.08 295.07,445.73 297.50,448.40C299.93,451.07 302.60,453.52 304.80,455.70C307.00,457.88 307.67,459.38 310.70,461.50C313.73,463.62 317.95,466.37 323.00,468.40C328.05,470.43 338.00,472.82 341.00,473.70" stroke="#00ffff"/>
</g>
<rect x="343.80" y="296.20" width="70.80" height="205.80" fill="#fff" stroke="#858585" stroke-width="1.1"/>
<path d="M347.7,308.10H371.4" stroke="#0072bd" stroke-width="3.2"/>
<text transform="translate(372.79,309.40) scale(0.8116,1)" font-size="8.43" fill="#141414" letter-spacing="-0.35" stroke="#141414" stroke-width="0.28" dx="0 0 0 0 0.90 0.90 0 0">ZnTe/SiO</text>
<text transform="translate(401.91,312.50) scale(0.9500,1)" font-size="5.60" fill="#141414" stroke="#141414" stroke-width="0.10">2</text>
<path d="M347.7,328.35H371.4" stroke="#0000ff" stroke-width="3.2"/>
<text transform="translate(372.83,329.65) scale(0.8008,1)" font-size="8.43" fill="#141414" letter-spacing="-0.35" stroke="#141414" stroke-width="0.28" dx="0 0 0 0 0.90 0.90 0 0">AlAs/SiO</text>
<text transform="translate(401.31,332.75) scale(0.9500,1)" font-size="5.60" fill="#141414" stroke="#141414" stroke-width="0.10">2</text>
<path d="M347.7,348.60H371.4" stroke="#00ff00" stroke-width="3.2"/>
<text transform="translate(372.83,349.90) scale(0.8087,1)" font-size="8.43" fill="#141414" letter-spacing="-0.35" stroke="#141414" stroke-width="0.28" dx="0 0 0.90 0.90 0 0">Au/SiO</text>
<text transform="translate(395.71,353.00) scale(0.9500,1)" font-size="5.60" fill="#141414" stroke="#141414" stroke-width="0.10">2</text>
<path d="M347.7,368.85H371.4" stroke="#ffff00" stroke-width="3.2"/>
<text transform="translate(372.72,370.15) scale(0.8272,1)" font-size="8.43" fill="#141414" letter-spacing="-0.35" stroke="#141414" stroke-width="0.28" dx="0 0 0.90 0.90 0 0">Cu/TiO</text>
<text transform="translate(395.61,373.25) scale(0.9500,1)" font-size="5.60" fill="#141414" stroke="#141414" stroke-width="0.10">2</text>
<path d="M347.7,389.10H371.4" stroke="#ff0000" stroke-width="3.2"/>
<text transform="translate(372.74,390.40) scale(0.7851,1)" font-size="8.43" fill="#141414" letter-spacing="-0.35" stroke="#141414" stroke-width="0.28" dx="0 0 0 0 0 0.90 0.90 0 0">CdEuS/SiO</text>
<text transform="translate(407.01,393.50) scale(0.9500,1)" font-size="5.60" fill="#141414" stroke="#141414" stroke-width="0.10">2</text>
<path d="M347.7,409.35H371.4" stroke="#a2350e" stroke-width="3.2"/>
<text transform="translate(372.53,410.65) scale(0.8299,1)" font-size="8.43" fill="#141414" letter-spacing="-0.35" stroke="#141414" stroke-width="0.28" dx="0 0 0 0.90 0.90 0 0">BGO/TiO</text>
<text transform="translate(401.81,413.75) scale(0.9500,1)" font-size="5.60" fill="#141414" stroke="#141414" stroke-width="0.10">2</text>
<path d="M347.7,429.60H371.4" stroke="#0a7d1a" stroke-width="3.2"/>
<text transform="translate(372.54,430.90) scale(0.8079,1)" font-size="8.43" fill="#141414" letter-spacing="-0.35" stroke="#141414" stroke-width="0.28" dx="0 0 0 0.90 0.90 0 0">BFO/SiO</text>
<text transform="translate(400.41,434.00) scale(0.9500,1)" font-size="5.60" fill="#141414" stroke="#141414" stroke-width="0.10">2</text>
<path d="M347.7,449.85H371.4" stroke="#7a2298" stroke-width="3.2"/>
<text transform="translate(372.82,451.15) scale(0.8419,1)" font-size="8.43" fill="#141414" letter-spacing="-0.35" stroke="#141414" stroke-width="0.28" dx="0 0 0.90 0.90 0 0">Au/TiO</text>
<text transform="translate(396.11,454.25) scale(0.9500,1)" font-size="5.60" fill="#141414" stroke="#141414" stroke-width="0.10">2</text>
<path d="M347.7,470.10H371.4" stroke="#4dbeee" stroke-width="3.2"/>
<text transform="translate(372.83,471.40) scale(0.8297,1)" font-size="8.43" fill="#141414" letter-spacing="-0.35" stroke="#141414" stroke-width="0.28" dx="0 0 0 0 0.90 0.90 0 0">AlSb/TiO</text>
<text transform="translate(401.81,474.50) scale(0.9500,1)" font-size="5.60" fill="#141414" stroke="#141414" stroke-width="0.10">2</text>
<path d="M347.7,490.35H371.4" stroke="#00ffff" stroke-width="3.2"/>
<text transform="translate(372.83,491.65) scale(0.8151,1)" font-size="8.43" fill="#141414" letter-spacing="-0.35" stroke="#141414" stroke-width="0.28" dx="0 0 0 0 0.90 0.90 0 0">AlAs/TiO</text>
<text transform="translate(401.31,494.75) scale(0.9500,1)" font-size="5.60" fill="#141414" stroke="#141414" stroke-width="0.10">2</text>
<text transform="translate(9.24,17.70) scale(0.7183,1)" font-size="13.67" fill="#141414" stroke="#141414" stroke-width="0.45">E</text>
<text transform="translate(12.44,304.40) scale(0.8215,1)" font-size="13.67" fill="#141414" stroke="#141414" stroke-width="0.45">F</text>
<text transform="translate(139.97,255.70) scale(0.9627,1)" font-size="14.25" fill="#141414" stroke="#141414" stroke-width="0.20">Wavelength (nm)</text>
<text transform="translate(139.37,541.00) scale(0.9358,1)" font-size="14.69" fill="#141414" stroke="#141414" stroke-width="0.20">Wavelength (nm)</text>
<text transform="translate(21.70,185.53) rotate(-90) scale(0.9861,1)" font-size="13.53" fill="#141414" stroke="#141414" stroke-width="0.15">Q-Factor (Absorption)</text>
<text transform="translate(22.00,467.13) rotate(-90) scale(0.9757,1)" font-size="13.53" fill="#141414" stroke="#141414" stroke-width="0.15">Q-Factor (Scattering)</text>
</svg></body></html>
